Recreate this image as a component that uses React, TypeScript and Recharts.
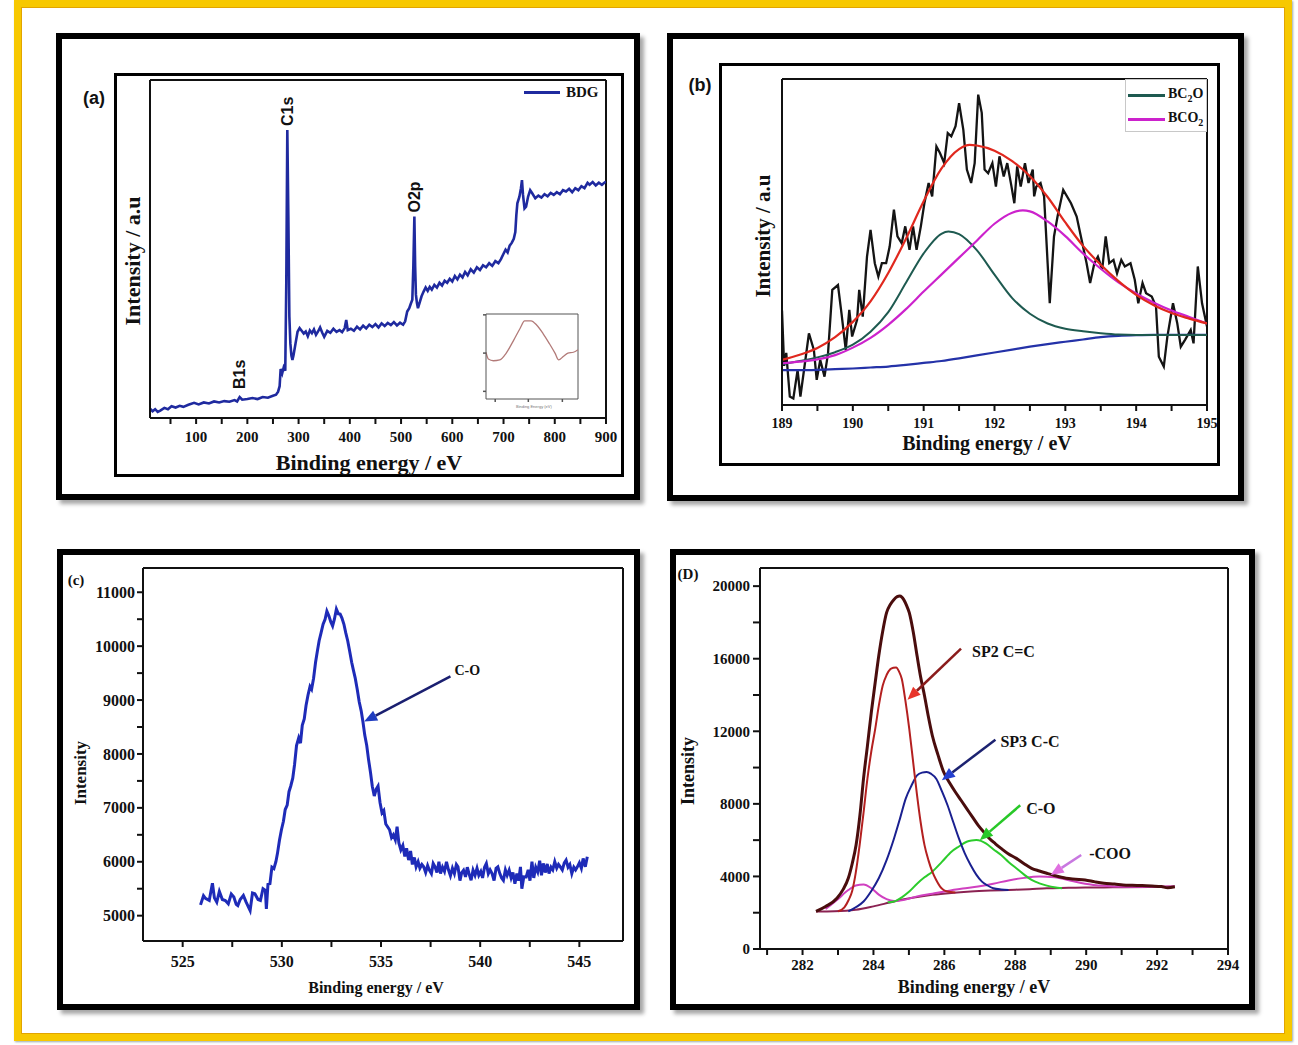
import React from "react";
import {
  LineChart,
  Line,
  XAxis,
  YAxis,
  ReferenceLine,
  ReferenceDot,
  Legend,
} from "recharts";

const SERIF = "'Liberation Serif', 'Times New Roman', serif";
const SANS = "'Liberation Sans', Arial, sans-serif";
const INK = "#111";

type Pt = [number, number];

// (a) wide survey scan, arbitrary intensity 0-100
const survey: Pt[] = [
  [10, 2.8], [15, 2.0], [20, 2.6], [25, 1.8], [30, 2.2], [38, 3.0], [45, 2.6], [52, 3.5],
  [60, 3.1], [68, 3.6], [75, 3.3], [85, 3.9], [96, 4.5], [105, 4.0], [115, 4.6], [125, 4.3],
  [135, 4.9], [145, 4.6], [155, 5.0], [165, 4.8], [175, 5.3], [180, 4.9], [185, 6.2], [190, 5.4],
  [200, 5.6], [210, 5.9], [220, 5.6], [230, 6.2], [240, 6.0], [250, 6.6], [256, 6.9], [260, 7.8],
  [263, 9.4], [265, 14.5], [268, 13.2], [271, 15.0], [274, 14.0], [276, 40], [278, 85.2], [280, 60],
  [282, 30], [284, 22], [286, 18.5], [288, 17.2], [290, 18.5], [294, 22], [298, 25.5], [302, 26.6],
  [306, 25.8], [310, 25.0], [314, 25.6], [318, 24.2], [322, 25.9], [326, 25.1], [330, 26.2], [334, 24.6],
  [338, 25.6], [342, 26.8], [346, 25.3], [350, 24.0], [356, 25.8], [362, 25.2], [368, 26.4], [374, 25.5],
  [380, 26.0], [385, 25.4], [390, 26.6], [393, 29.0], [396, 26.0], [402, 26.4], [408, 25.8], [414, 27.0],
  [420, 26.2], [426, 27.3], [432, 26.5], [438, 27.6], [444, 26.9], [450, 27.8], [456, 26.8], [462, 28.0],
  [468, 27.2], [474, 28.1], [480, 27.5], [486, 28.4], [492, 27.4], [498, 28.2], [504, 27.6], [508, 28.6],
  [512, 31.5], [516, 32.5], [519, 33.8], [522, 35.0], [524, 45.0], [526, 59.6], [527.5, 45.0], [529, 36.5],
  [531, 34.0], [533, 32.5], [536, 34.0], [540, 36.0], [544, 37.4], [548, 38.6], [552, 37.6], [556, 38.8],
  [560, 38.0], [565, 39.4], [570, 38.6], [575, 40.0], [580, 39.2], [585, 40.6], [590, 40.0], [595, 41.2],
  [600, 40.4], [605, 42.0], [610, 41.0], [615, 42.4], [620, 41.6], [625, 43.2], [630, 42.2], [636, 44.0],
  [642, 43.0], [648, 44.6], [654, 43.8], [660, 45.2], [666, 44.6], [672, 45.8], [678, 45.0], [684, 46.4],
  [690, 45.8], [695, 47.0], [700, 48.6], [704, 49.8], [708, 49.0], [712, 51.0], [716, 51.8], [720, 53.0],
  [723, 55.0], [725, 60.0], [727, 63.5], [731, 65.5], [734, 68.0], [736, 70.4], [738, 66.0], [741, 62.0],
  [744, 62.5], [748, 65.5], [752, 67.4], [756, 66.5], [762, 65.0], [768, 65.8], [774, 65.2], [780, 66.2],
  [786, 65.6], [792, 66.6], [798, 66.0], [804, 66.8], [810, 66.2], [816, 67.4], [822, 67.0], [828, 67.8],
  [834, 66.8], [840, 68.0], [846, 67.4], [852, 68.6], [858, 68.0], [864, 69.6], [868, 69.0], [874, 69.8],
  [880, 68.8], [886, 69.6], [892, 69.0], [900, 70.0],
];
const surveyTicks = [50, 100, 150, 200, 250, 300, 350, 400, 450, 500, 550, 600, 650, 700, 750, 800, 850, 900];
const surveyMajor = [100, 200, 300, 400, 500, 600, 700, 800, 900];
const peakNames = ["B1s", "C1s", "O2p"];
const peakAt: Pt[] = [[185, 6.2], [278, 85.2], [526, 59.6]];
const peakGap = [8, 4, 4];

// small inset trace in (a), normalised units
const inset: Pt[] = [
  [0, 0.55], [0.025, 0.47], [0.08, 0.45], [0.15, 0.46], [0.22, 0.54], [0.3, 0.69], [0.37, 0.83],
  [0.42, 0.92], [0.49, 0.92], [0.55, 0.87], [0.62, 0.77], [0.69, 0.65], [0.75, 0.54], [0.79, 0.46],
  [0.84, 0.5], [0.89, 0.54], [0.95, 0.55], [1, 0.58],
];

// (b) B1s region
const b1sRaw: Pt[] = [
  [189.0, 29], [189.03, 12], [189.06, 16], [189.11, 2.6], [189.16, 2.0], [189.22, 10.7], [189.26, 2.6],
  [189.33, 13.8], [189.38, 22.0], [189.45, 16.9], [189.49, 7.7], [189.54, 13.8], [189.6, 8.7], [189.65, 15.9],
  [189.71, 35.3], [189.79, 36.8], [189.84, 28.1], [189.9, 16.9], [189.95, 29.2], [189.99, 21.0], [190.06, 26.1],
  [190.09, 35.3], [190.14, 27.1], [190.2, 45.5], [190.25, 53.7], [190.31, 43.5], [190.36, 39.4], [190.41, 43.5],
  [190.47, 43.5], [190.52, 48.6], [190.58, 59.9], [190.63, 51.7], [190.69, 49.6], [190.74, 54.8], [190.8, 47.6],
  [190.85, 54.8], [190.9, 47.6], [190.96, 54.8], [191.01, 61.9], [191.07, 68.1], [191.12, 64.0], [191.18, 79.3],
  [191.23, 77.3], [191.29, 74.2], [191.34, 83.4], [191.39, 82.4], [191.45, 85.5], [191.5, 92.6], [191.56, 84.4],
  [191.61, 72.2], [191.67, 68.1], [191.72, 74.2], [191.77, 95.2], [191.82, 89.6], [191.86, 72.2], [191.91, 71.1],
  [191.97, 74.2], [192.02, 67.0], [192.07, 76.3], [192.13, 70.1], [192.18, 74.2], [192.24, 67.0], [192.28, 61.9],
  [192.32, 73.2], [192.37, 67.0], [192.43, 74.2], [192.48, 68.1], [192.54, 72.2], [192.56, 64.0], [192.59, 67.0],
  [192.65, 68.1], [192.7, 64.0], [192.75, 43.5], [192.78, 31.2], [192.84, 51.7], [192.89, 57.8], [192.97, 66.0],
  [193.08, 61.9], [193.16, 57.8], [193.24, 49.6], [193.3, 43.5], [193.35, 37.4], [193.41, 43.5], [193.46, 45.5],
  [193.52, 41.5], [193.57, 51.7], [193.62, 43.5], [193.68, 44.5], [193.73, 40.4], [193.79, 44.5], [193.84, 42.5],
  [193.92, 43.5], [193.98, 38.4], [194.03, 31.2], [194.09, 37.4], [194.14, 34.3], [194.22, 33.3], [194.28, 30.2],
  [194.32, 14.8], [194.39, 11.8], [194.44, 20.9], [194.52, 31.2], [194.58, 25.1], [194.63, 17.9], [194.69, 20.0],
  [194.77, 23.0], [194.81, 18.9], [194.87, 42.5], [194.93, 31.2], [195.0, 24.1],
];
const b1sBackground: Pt[] = [
  [189, 10.7], [189.25, 10.7], [189.5, 10.8], [189.75, 11.0], [190, 11.2], [190.25, 11.5], [190.5, 11.8],
  [190.75, 12.3], [191, 12.9], [191.25, 13.5], [191.5, 14.3], [191.75, 15.2], [192, 16.1], [192.25, 17.0],
  [192.5, 17.9], [192.75, 18.7], [193, 19.4], [193.25, 20.1], [193.5, 20.8], [193.75, 21.2], [194, 21.4],
  [194.25, 21.5], [194.5, 21.5], [194.75, 21.5], [195, 21.5],
];
const bc2o: Pt[] = [
  [189, 12.5], [189.25, 13.5], [189.5, 14.6], [189.75, 16.2], [190, 18.5], [190.25, 22.5], [190.5, 28.5],
  [190.75, 37.5], [191, 46.5], [191.25, 52.5], [191.35, 53.2], [191.5, 52.4], [191.75, 47.5], [192, 40.0],
  [192.25, 32.8], [192.5, 28.0], [192.75, 25.0], [193, 23.4], [193.25, 22.6], [193.5, 22.0], [193.75, 21.6],
  [194, 21.5], [194.5, 21.5], [195, 21.5],
];
const bco2: Pt[] = [
  [189, 12.8], [189.25, 13.3], [189.5, 14.0], [189.75, 15.3], [190, 17.6], [190.25, 20.6], [190.5, 24.6],
  [190.75, 29.4], [191, 34.8], [191.25, 40.0], [191.5, 45.2], [191.75, 50.4], [192, 55.6], [192.25, 59.0],
  [192.4, 59.7], [192.5, 59.4], [192.75, 56.3], [193, 51.8], [193.25, 46.5], [193.5, 41.8], [193.75, 37.6],
  [194, 34.2], [194.25, 31.4], [194.5, 29.0], [194.75, 27.0], [195, 25.0],
];
const b1sEnvelope: Pt[] = [
  [189, 13.8], [189.25, 15.4], [189.5, 17.5], [189.75, 20.8], [190, 25.5], [190.25, 31.8], [190.5, 40.5],
  [190.75, 51.0], [191, 62.5], [191.25, 72.5], [191.5, 78.5], [191.65, 79.8], [191.75, 79.6], [192, 78.0],
  [192.25, 74.8], [192.5, 70.2], [192.75, 63.8], [193, 56.0], [193.25, 48.8], [193.5, 43.0], [193.75, 38.0],
  [194, 33.8], [194.25, 30.6], [194.5, 28.2], [194.75, 26.5], [195, 25.0],
];
const b1sTicks = [189, 189.5, 190, 190.5, 191, 191.5, 192, 192.5, 193, 193.5, 194, 194.5, 195];
const b1sMajor = [189, 190, 191, 192, 193, 194, 195];

// (c) O1s region
const o1s: Pt[] = [
  [525.9, 5200], [526.05, 5370], [526.15, 5320], [526.34, 5281], [526.5, 5600], [526.6, 5330], [526.72, 5250],
  [526.85, 5450], [527.0, 5300], [527.15, 5280], [527.3, 5219], [527.45, 5400], [527.58, 5344], [527.7, 5210],
  [527.78, 5187], [527.9, 5300], [528.06, 5375], [528.2, 5250], [528.4, 5094], [528.52, 5420], [528.64, 5406],
  [528.8, 5300], [528.92, 5281], [529.05, 5500], [529.17, 5469], [529.22, 5125], [529.3, 5580], [529.4, 5594],
  [529.5, 5900], [529.6, 5875], [529.7, 6000], [529.78, 6156], [529.88, 6400], [529.98, 6594], [530.08, 6750],
  [530.17, 6969], [530.27, 7050], [530.36, 7300], [530.45, 7406], [530.55, 7550], [530.64, 7800], [530.74, 8156],
  [530.85, 8300], [530.94, 8200], [531.03, 8531], [531.13, 8650], [531.22, 8900], [531.32, 9094], [531.42, 9250],
  [531.5, 9200], [531.6, 9406], [531.7, 9700], [531.79, 9906], [531.88, 10100], [531.98, 10250], [532.08, 10406],
  [532.18, 10500], [532.27, 10650], [532.37, 10563], [532.47, 10450], [532.56, 10375], [532.65, 10500],
  [532.75, 10688], [532.85, 10600], [532.94, 10594], [533.03, 10520], [533.13, 10406], [533.22, 10250],
  [533.32, 10100], [533.42, 9906], [533.52, 9700], [533.61, 9550], [533.7, 9406], [533.8, 9200], [533.9, 8969],
  [534.0, 8800], [534.09, 8594], [534.18, 8350], [534.28, 8156], [534.37, 7900], [534.47, 7656], [534.56, 7400],
  [534.66, 7219], [534.76, 7350], [534.85, 7406], [534.95, 7100], [535.05, 6906], [535.14, 6950], [535.24, 6700],
  [535.33, 6650], [535.43, 6594], [535.53, 6450], [535.62, 6500], [535.72, 6406], [535.81, 6650], [535.9, 6350],
  [536.0, 6219], [536.1, 6300], [536.2, 6100], [536.29, 6250], [536.39, 6031], [536.49, 6200], [536.58, 5950],
  [536.68, 6080], [536.77, 5906], [536.87, 6000], [536.96, 5880], [537.06, 5950], [537.15, 5906], [537.25, 5800],
  [537.35, 5930], [537.44, 5844], [537.54, 5780], [537.63, 5969], [537.73, 5900], [537.82, 5800], [537.92, 6000],
  [538.0, 5781], [538.1, 5900], [538.2, 5820], [538.3, 6000], [538.4, 5850], [538.5, 5740], [538.6, 5880],
  [538.7, 5780], [538.8, 5950], [538.88, 5906], [538.98, 5650], [539.07, 5800], [539.16, 5844], [539.26, 5720],
  [539.35, 5900], [539.45, 5760], [539.54, 5656], [539.64, 5844], [539.74, 5750], [539.84, 5880], [539.93, 5750],
  [540.03, 5820], [540.12, 5700], [540.22, 5900], [540.31, 5969], [540.41, 5780], [540.5, 5850], [540.6, 5781],
  [540.7, 5650], [540.8, 5880], [540.89, 5906], [540.99, 5780], [541.08, 5700], [541.17, 5656], [541.27, 5850],
  [541.36, 5750], [541.46, 5844], [541.56, 5700], [541.65, 5800], [541.75, 5594], [541.85, 5780], [541.94, 5650],
  [542.03, 5906], [542.1, 5500], [542.2, 5720], [542.32, 5719], [542.42, 5850], [542.51, 5650], [542.61, 6000],
  [542.7, 5700], [542.8, 5900], [542.9, 5812], [543.0, 6020], [543.09, 5750], [543.18, 5969], [543.28, 5800],
  [543.38, 5960], [543.47, 5781], [543.57, 5900], [543.66, 5850], [543.76, 6000], [543.86, 5880], [543.95, 5950],
  [544.04, 5906], [544.14, 5850], [544.24, 5980], [544.33, 6031], [544.43, 5900], [544.52, 5950], [544.62, 5781],
  [544.72, 5900], [544.81, 5850], [544.9, 5906], [545.0, 5980], [545.1, 5880], [545.19, 6062], [545.3, 5906],
  [545.4, 6094],
];
const o1sTicks = [525, 527.5, 530, 532.5, 535, 537.5, 540, 542.5, 545];
const o1sMajor = [525, 530, 535, 540, 545];
const o1sYTicks = [5000, 5500, 6000, 6500, 7000, 7500, 8000, 8500, 9000, 9500, 10000, 10500, 11000];
const o1sYMajor = [5000, 6000, 7000, 8000, 9000, 10000, 11000];
const o1sArrow: Pt[] = [[538.5, 9440], [534.15, 8600]];

// (D) C1s region
const c1sEnvelope: Pt[] = [
  [282.38, 2068], [282.65, 2342], [282.97, 2800], [283.15, 3300], [283.29, 3898], [283.4, 4700], [283.51, 5728],
  [283.62, 7400], [283.72, 9388], [283.83, 11200], [283.94, 13048], [284.05, 14700], [284.15, 16159],
  [284.26, 17500], [284.37, 18538], [284.48, 19000], [284.58, 19270], [284.67, 19420], [284.74, 19453],
  [284.8, 19400], [284.85, 19270], [284.93, 18950], [285.01, 18538], [285.12, 17500], [285.23, 16159],
  [285.33, 15000], [285.44, 13963], [285.55, 12800], [285.66, 11767], [285.82, 10700], [285.98, 9754],
  [286.15, 9150], [286.31, 8656], [286.47, 8200], [286.63, 7741], [286.79, 7280], [286.95, 6826], [287.11, 6450],
  [287.27, 6094], [287.44, 5800], [287.6, 5545], [287.8, 5250], [288.03, 4996], [288.25, 4700], [288.46, 4447],
  [288.68, 4300], [288.89, 4172], [289.1, 4050], [289.3, 3950], [289.43, 3898], [289.7, 3850], [289.97, 3806],
  [290.25, 3700], [290.5, 3623], [290.8, 3580], [291.04, 3532], [291.3, 3510], [291.58, 3495], [291.85, 3470],
  [292.12, 3440], [292.3, 3380], [292.5, 3430],
];
const c1sBackground: Pt[] = [
  [282.38, 2068], [282.9, 2080], [283.5, 2160], [284.0, 2350], [284.58, 2617], [285.1, 2820], [285.66, 2983],
  [286.2, 3090], [286.74, 3166], [287.3, 3220], [287.81, 3257], [288.4, 3300], [288.89, 3349], [289.5, 3370],
  [289.97, 3386], [290.5, 3396], [291.04, 3404], [291.8, 3420], [292.5, 3440],
];
const sp2: Pt[] = [
  [283.0, 2080], [283.18, 2300], [283.3, 2700], [283.4, 3200], [283.5, 4200], [283.61, 5728], [283.72, 7500],
  [283.83, 9388], [283.94, 10900], [284.05, 12133], [284.15, 13400], [284.26, 14512], [284.37, 15100],
  [284.48, 15427], [284.56, 15500], [284.64, 15518], [284.72, 15300], [284.8, 14878], [284.9, 13700],
  [285.01, 12133], [285.12, 10300], [285.23, 8473], [285.33, 7000], [285.44, 5728], [285.55, 4900],
  [285.66, 4264], [285.77, 3800], [285.88, 3440], [285.98, 3250], [286.09, 3166], [286.31, 3120],
];
const sp3: Pt[] = [
  [283.29, 2068], [283.5, 2300], [283.72, 2617], [283.94, 3200], [284.15, 3898], [284.37, 4900], [284.58, 6094],
  [284.75, 7200], [284.91, 8290], [285.07, 9000], [285.23, 9571], [285.37, 9720], [285.5, 9754], [285.63, 9650],
  [285.77, 9388], [285.93, 8700], [286.09, 7924], [286.25, 7000], [286.41, 6094], [286.57, 5300], [286.74, 4630],
  [286.9, 4100], [287.06, 3715], [287.22, 3500], [287.38, 3349], [287.6, 3280], [287.81, 3257],
];
const cO: Pt[] = [
  [284.4, 2580], [284.58, 2617], [284.8, 2850], [285.01, 3166], [285.23, 3600], [285.44, 3950], [285.66, 4264],
  [285.93, 4800], [286.2, 5362], [286.41, 5650], [286.63, 5911], [286.77, 5980], [286.9, 6002], [287.03, 5960],
  [287.17, 5819], [287.38, 5500], [287.6, 5179], [287.81, 4800], [288.03, 4447], [288.25, 4100], [288.46, 3806],
  [288.68, 3620], [288.89, 3495], [289.1, 3400], [289.32, 3349],
];
const coo: Pt[] = [
  [282.65, 2200], [282.97, 2700], [283.29, 3250], [283.5, 3500], [283.72, 3550], [283.94, 3350], [284.15, 3000],
  [284.37, 2750], [284.58, 2650], [284.8, 2680], [285.23, 2900], [285.66, 3050], [286.09, 3200], [286.52, 3330],
  [286.95, 3450], [287.38, 3600], [287.81, 3780], [288.25, 3920], [288.68, 3990], [289.11, 3950], [289.54, 3780],
  [289.97, 3600], [290.5, 3480], [291.04, 3430], [291.58, 3430], [292.5, 3440],
];
const c1sTicks = [281, 282, 283, 284, 285, 286, 287, 288, 289, 290, 291, 292, 293, 294];
const c1sMajor = [282, 284, 286, 288, 290, 292, 294];
const c1sYTicks = [0, 2000, 4000, 6000, 8000, 10000, 12000, 14000, 16000, 18000, 20000];
const c1sYMajor = [0, 4000, 8000, 12000, 16000, 20000];
const c1sNotes = ["SP2 C=C", "SP3 C-C", "C-O", "-COO"];
const c1sNoteTail: Pt[] = [[286.47, 16560], [287.44, 11530], [288.14, 7920], [289.86, 5180]];
const c1sNoteHead: Pt[] = [[284.96, 13740], [285.93, 9300], [287.0, 6000], [289.0, 4080]];

const noteStyle: Record<string, { line: string; head: string; dx: number; dy: number }> = {
  "SP2 C=C": { line: "#8b1c1c", head: "#e8342a", dx: 11, dy: 3 },
  "SP3 C-C": { line: "#1c2270", head: "#2440d0", dx: 5, dy: 2 },
  "C-O": { line: "#28c828", head: "#28c828", dx: 6, dy: 3 },
  "-COO": { line: "#c878e0", head: "#e070e0", dx: 8, dy: -2 },
};

const toPoints = (rows: Pt[]) => rows.map(([x, y]) => ({ x, y }));

const axisLine = { stroke: INK, strokeWidth: 2 };
const tickLine = { stroke: INK, strokeWidth: 2 };

// tick label only on major values, minor ticks keep just the tick line
function serifTick(major: number[], fontSize: number, vertical: boolean) {
  return function Tick(props: any) {
    const { x, y, payload, textAnchor } = props;
    if (!major.includes(payload.value)) return null;
    return (
      <text
        x={x}
        y={y}
        textAnchor={textAnchor}
        dy={vertical ? "0.35em" : "0.8em"}
        fontFamily={SERIF}
        fontWeight="bold"
        fontSize={fontSize}
        fill={INK}
      >
        {payload.value}
      </text>
    );
  };
}

function peakLabel(text: string, gap: number) {
  return function PeakLabel(p: any) {
    const y = p.cy - gap;
    return (
      <text
        x={p.cx}
        y={y}
        transform={`rotate(-90 ${p.cx} ${y})`}
        dy="0.36em"
        fontFamily={SANS}
        fontWeight="bold"
        fontSize={16}
        fill={INK}
      >
        {text}
      </text>
    );
  };
}

function arrowShape(text: string, line: string, head: string, dx: number, dy: number, fontSize: number) {
  return function Arrow(p: any) {
    const { x1, y1, x2, y2 } = p;
    const ang = Math.atan2(y2 - y1, x2 - x1);
    const len = 13;
    const half = 5.5;
    const bx = x2 - len * Math.cos(ang);
    const by = y2 - len * Math.sin(ang);
    const px = -Math.sin(ang) * half;
    const py = Math.cos(ang) * half;
    return (
      <g>
        <line x1={x1} y1={y1} x2={bx} y2={by} stroke={line} strokeWidth={2.5} />
        <polygon points={`${x2},${y2} ${bx + px},${by + py} ${bx - px},${by - py}`} fill={head} />
        <text
          x={x1 + dx}
          y={y1 + dy}
          dy="0.35em"
          fontFamily={SERIF}
          fontWeight="bold"
          fontSize={fontSize}
          fill={INK}
        >
          {text}
        </text>
      </g>
    );
  };
}

function Caption({ x, y, size, rotate, family = SERIF, children }: any) {
  return (
    <div
      style={{
        position: "absolute",
        left: x,
        top: y,
        transform: `translate(-50%, -50%)${rotate ? " rotate(-90deg)" : ""}`,
        fontFamily: family,
        fontWeight: 700,
        fontSize: size,
        lineHeight: 1,
        whiteSpace: "nowrap",
        color: INK,
      }}
    >
      {children}
    </div>
  );
}

function Frame({ left, top, width, height, border, shadow }: any) {
  return (
    <div
      style={{
        position: "absolute",
        left,
        top,
        width,
        height,
        boxSizing: "border-box",
        border: `${border}px solid #000`,
        boxShadow: shadow ? "4px 4px 4px rgba(0,0,0,0.35)" : undefined,
      }}
    />
  );
}

function SurveyPanel() {
  return (
    <>
      <div style={{ position: "absolute", left: 110, top: 60 }}>
        <LineChart width={510} height={420} margin={{ top: 20, right: 14, bottom: 0, left: 0 }}>
          <XAxis
            type="number"
            dataKey="x"
            domain={[10, 900]}
            allowDataOverflow
            ticks={surveyTicks}
            interval={0}
            height={62}
            tickSize={6}
            tickMargin={6}
            axisLine={axisLine}
            tickLine={tickLine}
            tick={serifTick(surveyMajor, 15, false)}
          />
          <YAxis type="number" dataKey="y" domain={[0, 100]} allowDataOverflow width={40} tick={false} tickLine={false} axisLine={axisLine} />
          <ReferenceLine x={900} stroke={INK} strokeWidth={2} />
          <ReferenceLine y={100} stroke={INK} strokeWidth={2} />
          <Line data={toPoints(survey)} dataKey="y" type="linear" stroke="#1f2a9f" strokeWidth={2.6} dot={false} isAnimationActive={false} />
          {peakNames.map((name, i) => (
            <ReferenceDot key={name} x={peakAt[i][0]} y={peakAt[i][1]} r={0} shape={peakLabel(name, peakGap[i])} />
          ))}
          <Legend
            layout="vertical"
            align="center"
            verticalAlign="middle"
            wrapperStyle={{ left: 414, top: 24 }}
            content={() => (
              <div style={{ display: "flex", alignItems: "center", fontFamily: SERIF, fontWeight: 700, fontSize: 15, color: INK }}>
                <span style={{ display: "inline-block", width: 36, height: 3, background: "#1f2a9f", marginRight: 6 }} />
                BDG
              </div>
            )}
          />
        </LineChart>
      </div>
      <div style={{ position: "absolute", left: 476, top: 312 }}>
        <LineChart width={104} height={100} margin={{ top: 2, right: 2, bottom: 0, left: 0 }}>
          <XAxis
            type="number"
            dataKey="x"
            domain={[0, 1]}
            allowDataOverflow
            ticks={[0.1, 0.46, 0.83]}
            interval={0}
            height={13}
            tickSize={3}
            axisLine={{ stroke: "#555", strokeWidth: 1 }}
            tickLine={{ stroke: "#555", strokeWidth: 1.5 }}
            tick={() => null}
          />
          <YAxis
            type="number"
            dataKey="y"
            domain={[0, 1]}
            allowDataOverflow
            ticks={[0.09, 0.54, 0.99]}
            interval={0}
            width={10}
            tickSize={3}
            axisLine={{ stroke: "#555", strokeWidth: 1 }}
            tickLine={{ stroke: "#555", strokeWidth: 1.5 }}
            tick={() => null}
          />
          <ReferenceLine x={1} stroke="#555" strokeWidth={1} />
          <ReferenceLine y={1} stroke="#555" strokeWidth={1} />
          <Line data={toPoints(inset)} dataKey="y" type="monotone" stroke="#b27a78" strokeWidth={1.3} dot={false} isAnimationActive={false} />
        </LineChart>
      </div>
      <div style={{ position: "absolute", left: 516, top: 404, fontFamily: SANS, fontSize: 4, color: "#777", whiteSpace: "nowrap" }}>
        Binding Energy (eV)
      </div>
    </>
  );
}

function BoronPanel() {
  return (
    <div style={{ position: "absolute", left: 730, top: 60 }}>
      <LineChart width={490} height={400} margin={{ top: 19, right: 13, bottom: 0, left: 0 }}>
        <XAxis
          type="number"
          dataKey="x"
          domain={[189, 195]}
          allowDataOverflow
          ticks={b1sTicks}
          interval={0}
          height={55}
          tickSize={6}
          tickMargin={6}
          axisLine={axisLine}
          tickLine={tickLine}
          tick={serifTick(b1sMajor, 14, false)}
        />
        <YAxis type="number" dataKey="y" domain={[0, 100]} allowDataOverflow width={52} tick={false} tickLine={false} axisLine={axisLine} />
        <ReferenceLine x={195} stroke={INK} strokeWidth={2} />
        <ReferenceLine y={100} stroke={INK} strokeWidth={2} />
        <Line data={toPoints(b1sRaw)} dataKey="y" type="linear" stroke="#141414" strokeWidth={2.3} dot={false} isAnimationActive={false} />
        <Line data={toPoints(b1sBackground)} dataKey="y" type="monotone" stroke="#2432a8" strokeWidth={2.2} dot={false} isAnimationActive={false} />
        <Line data={toPoints(bc2o)} dataKey="y" type="monotone" stroke="#1e5a50" strokeWidth={2} dot={false} isAnimationActive={false} />
        <Line data={toPoints(bco2)} dataKey="y" type="monotone" stroke="#cc22cc" strokeWidth={2.2} dot={false} isAnimationActive={false} />
        <Line data={toPoints(b1sEnvelope)} dataKey="y" type="monotone" stroke="#e0281e" strokeWidth={2.2} dot={false} isAnimationActive={false} />
        <Legend
          layout="vertical"
          align="center"
          verticalAlign="middle"
          wrapperStyle={{ left: 395, top: 19 }}
          content={() => (
            <div
              style={{
                width: 82,
                height: 53,
                boxSizing: "border-box",
                border: "1px solid #c8c8c8",
                background: "#fff",
                fontFamily: SERIF,
                fontWeight: 700,
                fontSize: 14,
                color: INK,
                paddingTop: 3,
              }}
            >
              {[
                { c: "#1e5a50", t: <>BC<sub style={{ fontSize: 10 }}>2</sub>O</> },
                { c: "#cc22cc", t: <>BCO<sub style={{ fontSize: 10 }}>2</sub></> },
              ].map((row, i) => (
                <div key={i} style={{ display: "flex", alignItems: "center", height: 24 }}>
                  <span style={{ display: "inline-block", width: 37, height: 3, background: row.c, marginLeft: 2, marginRight: 3 }} />
                  <span style={{ lineHeight: 1 }}>{row.t}</span>
                </div>
              ))}
            </div>
          )}
        />
      </LineChart>
    </div>
  );
}

function OxygenPanel() {
  return (
    <div style={{ position: "absolute", left: 62, top: 555 }}>
      <LineChart width={570} height={445} margin={{ top: 13, right: 9, bottom: 0, left: 0 }}>
        <XAxis
          type="number"
          dataKey="x"
          domain={[523, 547.2]}
          allowDataOverflow
          ticks={o1sTicks}
          interval={0}
          height={59}
          tickSize={6}
          tickMargin={7}
          axisLine={axisLine}
          tickLine={tickLine}
          tick={serifTick(o1sMajor, 16, false)}
        />
        <YAxis
          type="number"
          dataKey="y"
          domain={[4530, 11450]}
          allowDataOverflow
          ticks={o1sYTicks}
          interval={0}
          width={81}
          tickSize={6}
          tickMargin={2}
          axisLine={axisLine}
          tickLine={tickLine}
          tick={serifTick(o1sYMajor, 16, true)}
        />
        <ReferenceLine x={547.2} stroke={INK} strokeWidth={2} />
        <ReferenceLine y={11450} stroke={INK} strokeWidth={2} />
        <Line data={toPoints(o1s)} dataKey="y" type="linear" stroke="#1e2bb8" strokeWidth={3} dot={false} isAnimationActive={false} />
        <ReferenceLine
          segment={[{ x: o1sArrow[0][0], y: o1sArrow[0][1] }, { x: o1sArrow[1][0], y: o1sArrow[1][1] }]}
          shape={arrowShape("C-O", "#1a1f70", "#1f3cc0", 4, -6, 14)}
        />
      </LineChart>
    </div>
  );
}

function CarbonPanel() {
  return (
    <div style={{ position: "absolute", left: 680, top: 555 }}>
      <LineChart width={560} height={445} margin={{ top: 13, right: 12, bottom: 0, left: 0 }}>
        <XAxis
          type="number"
          dataKey="x"
          domain={[280.8, 294]}
          allowDataOverflow
          ticks={c1sTicks}
          interval={0}
          height={51}
          tickSize={6}
          tickMargin={3}
          axisLine={axisLine}
          tickLine={tickLine}
          tick={serifTick(c1sMajor, 15, false)}
        />
        <YAxis
          type="number"
          dataKey="y"
          domain={[0, 21000]}
          allowDataOverflow
          ticks={c1sYTicks}
          interval={0}
          width={80}
          tickSize={7}
          tickMargin={3}
          axisLine={axisLine}
          tickLine={tickLine}
          tick={serifTick(c1sYMajor, 15, true)}
        />
        <ReferenceLine x={294} stroke={INK} strokeWidth={2} />
        <ReferenceLine y={21000} stroke={INK} strokeWidth={2} />
        <Line data={toPoints(c1sBackground)} dataKey="y" type="monotone" stroke="#8b2252" strokeWidth={2} dot={false} isAnimationActive={false} />
        <Line data={toPoints(coo)} dataKey="y" type="monotone" stroke="#d040c0" strokeWidth={2} dot={false} isAnimationActive={false} />
        <Line data={toPoints(cO)} dataKey="y" type="monotone" stroke="#2ccc2c" strokeWidth={2} dot={false} isAnimationActive={false} />
        <Line data={toPoints(sp3)} dataKey="y" type="monotone" stroke="#1a2090" strokeWidth={2} dot={false} isAnimationActive={false} />
        <Line data={toPoints(sp2)} dataKey="y" type="monotone" stroke="#b42020" strokeWidth={2} dot={false} isAnimationActive={false} />
        <Line data={toPoints(c1sEnvelope)} dataKey="y" type="monotone" stroke="#4a0d0d" strokeWidth={3} dot={false} isAnimationActive={false} />
        {c1sNotes.map((note, i) => {
          const s = noteStyle[note];
          return (
            <ReferenceLine
              key={note}
              segment={[
                { x: c1sNoteTail[i][0], y: c1sNoteTail[i][1] },
                { x: c1sNoteHead[i][0], y: c1sNoteHead[i][1] },
              ]}
              shape={arrowShape(note, s.line, s.head, s.dx, s.dy, 16)}
            />
          );
        })}
      </LineChart>
    </div>
  );
}

export default function App() {
  return (
    <div style={{ position: "absolute", left: 0, top: 0, width: 1298, height: 1045, background: "#fff", overflow: "hidden" }}>
      <div
        style={{
          position: "absolute",
          left: 14,
          top: 0,
          width: 1278,
          height: 1041,
          boxSizing: "border-box",
          border: "7px solid #f7c800",
          boxShadow: "inset 0 0 0 1px #e2a400, 1px 1px 2px #9aa",
        }}
      />
      <Frame left={56} top={33} width={584} height={467} border={6} shadow />
      <Frame left={667} top={33} width={577} height={468} border={6} shadow />
      <Frame left={57} top={549} width={583} height={461} border={6} shadow />
      <Frame left={670} top={549} width={585} height={461} border={6} shadow />
      <Frame left={114} top={73} width={510} height={404} border={3} />
      <Frame left={719} top={63} width={501} height={403} border={3} />

      <SurveyPanel />
      <BoronPanel />
      <OxygenPanel />
      <CarbonPanel />

      <Caption x={94} y={98} size={18} family={SANS}>(a)</Caption>
      <Caption x={133} y={261} size={22} rotate>Intensity / a.u</Caption>
      <Caption x={369} y={463} size={22}>Binding energy / eV</Caption>

      <Caption x={700} y={85} size={18} family={SANS}>(b)</Caption>
      <Caption x={763} y={236} size={21} rotate>Intensity / a.u</Caption>
      <Caption x={987} y={443} size={20}>Binding energy / eV</Caption>

      <Caption x={76} y={580} size={15}>(c)</Caption>
      <Caption x={80} y={773} size={17} rotate>Intensity</Caption>
      <Caption x={376} y={988} size={16}>Binding energy / eV</Caption>

      <Caption x={688} y={574} size={15}>(D)</Caption>
      <Caption x={688} y={771} size={18} rotate>Intensity</Caption>
      <Caption x={974} y={987} size={18}>Binding energy / eV</Caption>
    </div>
  );
}
